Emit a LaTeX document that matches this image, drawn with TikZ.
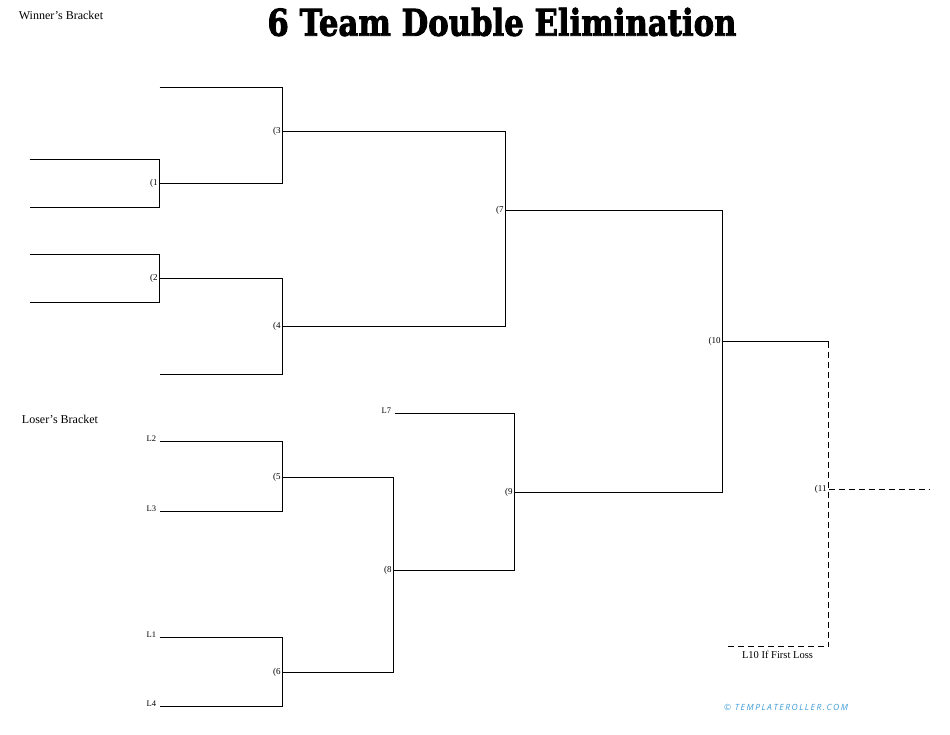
\documentclass[tikz,border=0pt]{standalone}
\usepackage{fontspec}
\setmainfont{Liberation Serif}
\newfontfamily\titlefont[BoldFeatures={FakeBold=2.5}]{DejaVu Serif}
\newfontfamily\markfont[LetterSpace=18]{Open Sans}
\usetikzlibrary{positioning}
\usetikzlibrary{calc}
\definecolor{markblue}{HTML}{3D9BD6}

\begin{document}
\begin{tikzpicture}[x=1pt,y=-1pt,line width=1pt,
    game/.style={left,inner sep=1.5pt,font=\fontsize{9}{10}\selectfont},
    slot/.style={anchor=base east,inner sep=0pt,xshift=-3pt,font=\fontsize{8.5}{9}\selectfont},
    head/.style={font=\fontsize{12}{13}\selectfont}]
    \useasboundingbox (0,0) rectangle (950,735);
    \begin{scope}[shift={(0.5,0.5)}]
    % winner's bracket
    \coordinate (e1a) at (29,159); \coordinate (e1b) at (29,207); \coordinate (g1) at (159,183);
    \coordinate (e2a) at (29,254); \coordinate (e2b) at (29,302); \coordinate (g2) at (159,278);
    \coordinate (e3) at (159,87);  \coordinate (g3) at (282,131);
    \coordinate (e4) at (159,374); \coordinate (g4) at (282,326);
    \coordinate (g7) at (505,210);
    \coordinate (g10) at (722,341); \coordinate (f10) at (828,341);
    \coordinate (g11) at (828,489); \coordinate (e11) at (929,489);
    \coordinate (e10) at (726,646);
    % loser's bracket
    \coordinate (l2) at (159,441); \coordinate (l3) at (159,511); \coordinate (g5) at (282,477);
    \coordinate (l1) at (159,637); \coordinate (l4) at (159,706); \coordinate (g6) at (282,672);
    \coordinate (g8) at (393,570);
    \coordinate (l7) at (394,413); \coordinate (g9) at (514,492);

    \draw (e1a) -| (g1) |- (e1b);
    \draw (e2a) -| (g2) |- (e2b);
    \draw (e3) -| (g3) |- (g1);
    \draw (g2) -| (g4) |- (e4);
    \draw (g3) -| (g7) |- (g4);
    \draw (g7) -| (g10) |- (g9);
    \draw (l2) -| (g5) |- (l3);
    \draw (l1) -| (g6) |- (l4);
    \draw (g5) -| (g8) |- (g6);
    \draw (l7) -| (g9) |- (g8);
    \draw (g10) -- (f10);
    \draw[dashed,dash pattern=on 6pt off 4pt] (f10) |- (e10);
    \draw[dashed,dash pattern=on 6pt off 4pt] (g11) -- (e11);
    \end{scope}

    \foreach \g/\t in {g1/1,g2/2,g3/3,g4/4,g5/5,g6/6,g7/7,g8/8,g9/9,g10/10,g11/11}{
      \node[game] (n\g) at (\g) {(\t};
    }
    \foreach \l/\t in {l1/L1,l2/L2,l3/L3,l4/L4,l7/L7}{
      \node[slot] (n\l) at (\l) {\t};
    }
    \node[anchor=north,inner sep=0pt,yshift=-4pt,font=\fontsize{10.5}{11}\selectfont] (loss) at ($(e10)!0.5!(f10|-e10)$) {L10 If First Loss};

    \node[head] (win) at (61,15) {Winner's Bracket};
    \node[head] (lose) at (60,419) {Loser's Bracket};
    \node[inner sep=0pt] (title) at (502,22) {\resizebox{469pt}{28pt}{\titlefont\bfseries 6 Team Double Elimination}};
    \node[inner sep=0pt,markblue] (mark) at (786,707) {\resizebox{124pt}{!}{\markfont\itshape\fontsize{8}{9}\selectfont \textcopyright\ TEMPLATEROLLER.COM}};
\end{tikzpicture}
\end{document}
